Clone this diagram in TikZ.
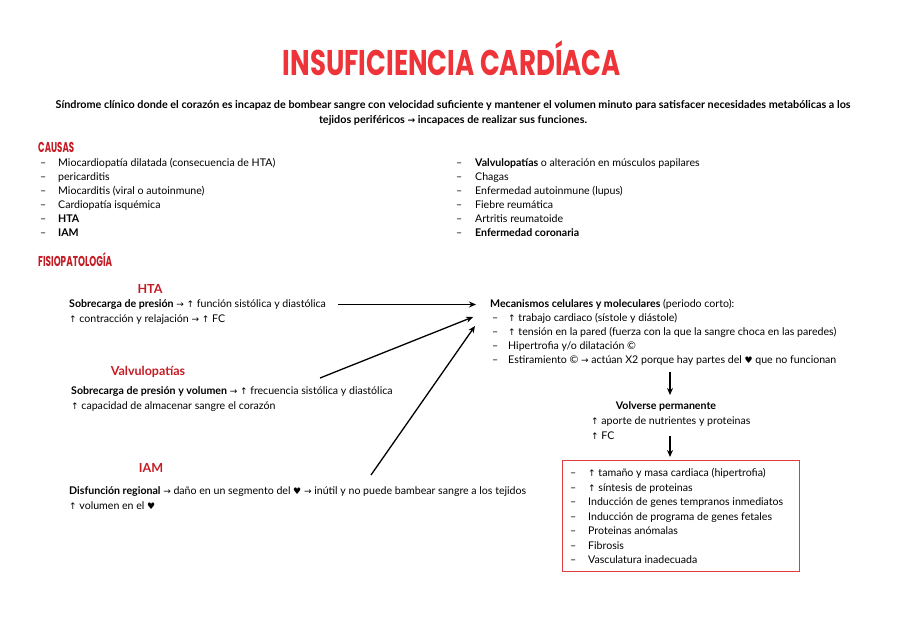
\documentclass[tikz,border=0pt]{standalone}
\usepackage{fontspec}
\setmainfont{Lato}
\newfontfamily\symf[Scale=0.85]{DejaVu Sans}
\newfontfamily\titlef{Poppins}
\usetikzlibrary{arrows.meta}
\definecolor{titlered}{RGB}{238,52,56}
\definecolor{headred}{RGB}{196,28,36}
\definecolor{boxred}{RGB}{222,60,64}
\newcommand{\upar}{{\symf ↑}}
\newcommand{\rar}{{\symf →}}
\newcommand{\hrt}{{\symf ♥}}
\newcommand{\itm}[1]{\makebox[#1][l]{–}}
\tikzset{
  txt/.style={anchor=base west, inner sep=0pt, font=\fontsize{10.6}{12}\selectfont},
  sub/.style={anchor=base, inner sep=0pt, font=\fontsize{10.8}{12}\selectfont\bfseries},
  head/.style={anchor=base, inner sep=0pt, text=headred, font=\fontsize{12.5}{14}\selectfont\bfseries},
  sect/.style={anchor=base west, inner sep=0pt, text=headred},
  arr/.style={-{Stealth[length=7pt,width=6pt]}, line width=1.3pt},
}
\begin{document}
\begin{tikzpicture}[x=1pt,y=1pt]
\useasboundingbox[fill=white] (0,0) rectangle (905,-640);
% title
\node[anchor=base, inner sep=0pt, text=titlered] (title) at (452,-75)
  {\resizebox{338pt}{\height}{\titlef\bfseries\fontsize{35.7}{40}\selectfont INSUFICIENCIA CARDÍACA}};
\node[sub] (s1) at (453,-108) {Síndrome clínico donde el corazón es incapaz de bombear sangre con velocidad suficiente y mantener el volumen minuto para satisfacer necesidades metabólicas a los};
\node[sub] (s2) at (453,-123) {tejidos periféricos \rar\ incapaces de realizar sus funciones.};
% causas
\node[sect] (causas) at (38,-152) {\resizebox{36pt}{\height}{\titlef\bfseries\fontsize{14.3}{16}\selectfont CAUSAS}};
\node[txt] (c1) at (40,-166.5) {\itm{18pt}Miocardiopatía dilatada (consecuencia de HTA)};
\node[txt] (c2) at (40,-180.5) {\itm{18pt}pericarditis};
\node[txt] (c3) at (40,-194.5) {\itm{18pt}Miocarditis (viral o autoinmune)};
\node[txt] (c4) at (40,-208.5) {\itm{18pt}Cardiopatía isquémica};
\node[txt] (c5) at (40,-222.5) {\itm{18pt}\textbf{HTA}};
\node[txt] (c6) at (40,-236.5) {\itm{18pt}\textbf{IAM}};
\node[txt] (d1) at (456,-166.5) {\itm{19pt}\textbf{Valvulopatías} o alteración en músculos papilares};
\node[txt] (d2) at (456,-180.5) {\itm{19pt}Chagas};
\node[txt] (d3) at (456,-194.5) {\itm{19pt}Enfermedad autoinmune (lupus)};
\node[txt] (d4) at (456,-208.5) {\itm{19pt}Fiebre reumática};
\node[txt] (d5) at (456,-222.5) {\itm{19pt}Artritis reumatoide};
\node[txt] (d6) at (456,-236.5) {\itm{19pt}\textbf{Enfermedad coronaria}};
% fisiopatologia
\node[sect] (fisio) at (38,-266) {\resizebox{74pt}{\height}{\titlef\bfseries\fontsize{14.3}{16}\selectfont FISIOPATOLOGÍA}};
% HTA
\node[head] (hta) at (150,-293) {HTA};
\node[txt] (h1) at (69,-307.5) {\textbf{Sobrecarga de presión} \rar\ \upar\ función sistólica y diastólica};
\node[txt] (h2) at (69,-322) {\upar\ contracción y relajación \rar\ \upar\ FC};
% Valvulopatias
\node[head] (valv) at (148,-375) {Valvulopatías};
\node[txt] (v1) at (71,-394) {\textbf{Sobrecarga de presión y volumen} \rar\ \upar\ frecuencia sistólica y diastólica};
\node[txt] (v2) at (71,-409) {\upar\ capacidad de almacenar sangre el corazón};
% IAM
\node[head] (iam) at (151,-472) {IAM};
\node[txt] (i1) at (69,-494) {\textbf{Disfunción regional} \rar\ daño en un segmento del \hrt\ \rar\ inútil y no puede bambear sangre a los tejidos};
\node[txt] (i2) at (69,-509) {\upar\ volumen en el \hrt};
% Mecanismos
\node[txt] (m0) at (490,-307.5) {\textbf{Mecanismos celulares y moleculares} (periodo corto):};
\node[txt] (m1) at (492,-321.5) {\itm{16pt}\upar\ trabajo cardiaco (sístole y diástole)};
\node[txt] (m2) at (492,-335.5) {\itm{16pt}\upar\ tensión en la pared (fuerza con la que la sangre choca en las paredes)};
\node[txt] (m3) at (492,-349.5) {\itm{16pt}Hipertrofia y/o dilatación ©};
\node[txt] (m4) at (492,-363.5) {\itm{16pt}Estiramiento © \rar\ actúan X2 porque hay partes del \hrt\ que no funcionan};
% Volverse permanente
\node[anchor=base, inner sep=0pt, font=\fontsize{10.6}{12}\selectfont\bfseries] (vp) at (666,-409) {Volverse permanente};
\node[txt] (p1) at (591,-424) {\upar\ aporte de nutrientes y proteinas};
\node[txt] (p2) at (591,-439) {\upar\ FC};
% box
\node[draw=boxred, line width=0.9pt, anchor=north west, minimum width=237pt, minimum height=111pt, inner sep=0pt] (box) at (562,-460) {};
\node[txt] (b1) at (570,-476) {\itm{18pt}\upar\ tamaño y masa cardiaca (hipertrofia)};
\node[txt] (b2) at (570,-491) {\itm{18pt}\upar\ síntesis de proteinas};
\node[txt] (b3) at (570,-505.5) {\itm{18pt}Inducción de genes tempranos inmediatos};
\node[txt] (b4) at (570,-520) {\itm{18pt}Inducción de programa de genes fetales};
\node[txt] (b5) at (570,-534.5) {\itm{18pt}Proteinas anómalas};
\node[txt] (b6) at (570,-549) {\itm{18pt}Fibrosis};
\node[txt] (b7) at (570,-563.5) {\itm{18pt}Vasculatura inadecuada};
% connectors
\coordinate (a1s) at (338,-304.5);
\coordinate (a1e) at (476,-304.5);
\coordinate (a2s) at (320,-378);
\coordinate (a2e) at (473,-317);
\coordinate (a3s) at (371,-475);
\coordinate (a3e) at (475,-326);
\coordinate (d1s) at (670,-372);
\coordinate (d1e) at (670,-395);
\coordinate (d2s) at (670,-436);
\coordinate (d2e) at (670,-457);
\draw[arr] (a1s) -- (a1e);
\draw[arr] (a2s) -- (a2e);
\draw[arr] (a3s) -- (a3e);
\draw[arr] (d1s) -- (d1e);
\draw[arr] (d2s) -- (d2e);
\end{tikzpicture}
\end{document}
